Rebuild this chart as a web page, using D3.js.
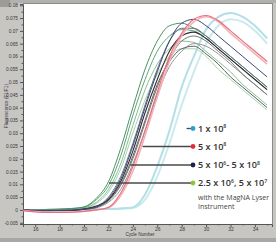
<!DOCTYPE html>
<html>
<head>
<meta charset="utf-8">
<script src="https://cdnjs.cloudflare.com/ajax/libs/d3/7.8.5/d3.min.js"></script>
<style>
  html, body { margin: 0; padding: 0; background: #c8c6c3; }
  svg { display: block; }
</style>
</head>
<body>
<script>
// cycle numbers for all curves
var cycles = d3.range(15, 36);

// fluorescence readings per run (cycle 15 .. 35)
var green1 = [0, 0, 0.0002, 0.0003, 0.0005, 0.001, 0.004, 0.0095, 0.021, 0.037, 0.051, 0.062, 0.068, 0.0705, 0.07, 0.067, 0.063, 0.059, 0.055, 0.051, 0.047];
var green2 = [0, 0, 0.0001, 0.0002, 0.0004, 0.0008, 0.003, 0.008, 0.018, 0.033, 0.047, 0.057, 0.063, 0.066, 0.0655, 0.062, 0.058, 0.054, 0.049, 0.045, 0.041];
var green3 = [0, 0, 0.0002, 0.0003, 0.0006, 0.0012, 0.0045, 0.011, 0.024, 0.040, 0.055, 0.066, 0.072, 0.073, 0.071, 0.068, 0.064, 0.060, 0.056, 0.052, 0.048];
var green4 = [0, 0, 0.0001, 0.0002, 0.0003, 0.0006, 0.0025, 0.007, 0.016, 0.030, 0.043, 0.053, 0.060, 0.063, 0.063, 0.060, 0.055, 0.051, 0.047, 0.043, 0.039];

var dark1 = [0, -0.0003, -0.0004, -0.0003, -0.0002, 0.0003, 0.0015, 0.004, 0.011, 0.023, 0.038, 0.051, 0.062, 0.068, 0.0695, 0.067, 0.063, 0.059, 0.055, 0.051, 0.047];
var dark2 = [0, -0.0002, -0.0003, -0.0002, -0.0001, 0.0002, 0.001, 0.0035, 0.0095, 0.020, 0.034, 0.048, 0.059, 0.066, 0.068, 0.066, 0.062, 0.058, 0.053, 0.049, 0.045];
var navy1 = [0, -0.0003, -0.0003, -0.0002, -0.0001, 0.0003, 0.0012, 0.0045, 0.012, 0.025, 0.040, 0.054, 0.066, 0.073, 0.0745, 0.072, 0.068, 0.064, 0.060, 0.056, 0.052];
var dark3 = [0, -0.0002, -0.0003, -0.0003, -0.0002, 0.0002, 0.001, 0.0038, 0.010, 0.021, 0.035, 0.049, 0.058, 0.063, 0.064, 0.061, 0.057, 0.052, 0.048, 0.044, 0.040];
var slate1 = [0, -0.0002, -0.0002, -0.0001, 0, 0.0004, 0.0013, 0.005, 0.013, 0.026, 0.041, 0.055, 0.066, 0.071, 0.071, 0.068, 0.064, 0.060, 0.056, 0.052, 0.048];
var grey1 = [0, -0.0001, -0.0002, -0.0002, -0.0001, 0.0002, 0.0008, 0.003, 0.008, 0.018, 0.031, 0.045, 0.056, 0.062, 0.065, 0.064, 0.061, 0.057, 0.053, 0.049, 0.045];

var red1 = [-0.0003, -0.0008, -0.001, -0.001, -0.0009, -0.0006, 0, 0.001, 0.0065, 0.017, 0.031, 0.046, 0.060, 0.069, 0.0745, 0.076, 0.074, 0.070, 0.066, 0.062, 0.058];
var red2 = [-0.0002, -0.0006, -0.0008, -0.0008, -0.0007, -0.0005, 0, 0.0008, 0.0055, 0.015, 0.029, 0.044, 0.058, 0.068, 0.0735, 0.0755, 0.0735, 0.069, 0.065, 0.061, 0.057];

var cyan1 = [0, 0, 0, 0, 0.0001, 0.0002, 0.0003, 0.0004, 0.0006, 0.001, 0.006, 0.017, 0.031, 0.048, 0.060, 0.0705, 0.0755, 0.077, 0.0755, 0.072, 0.067];
var cyan2 = [0, 0, 0, 0, 0.0001, 0.0002, 0.0003, 0.0004, 0.0005, 0.0008, 0.004, 0.013, 0.026, 0.041, 0.054, 0.065, 0.072, 0.0745, 0.0735, 0.070, 0.065];

// draw order and colours
var runs = [
  { v: cyan2, c: "#cbeaee", w: 2 },
  { v: cyan1, c: "#b3e0e5", w: 2 },
  { v: green4, c: "#a6d4ae", w: 1 },
  { v: green2, c: "#86bf94", w: 1 },
  { v: green1, c: "#5fa575", w: 1 },
  { v: green3, c: "#4a9065", w: 1 },
  { v: grey1, c: "#959595", w: 1 },
  { v: dark3, c: "#606060", w: 1 },
  { v: dark2, c: "#777777", w: 1 },
  { v: slate1, c: "#67708a", w: 1 },
  { v: dark1, c: "#2e2e2e", w: 1.1 },
  { v: navy1, c: "#3c4878", w: 1 },
  { v: red2, c: "#f3b0b8", w: 1.5 },
  { v: red1, c: "#e6727f", w: 1.2 }
];

// legend
var legendLabels = [
  ["1 x 10", "8", "", ""],
  ["5 x 10", "8", "", ""],
  ["5 x 10", "6", "- 5 x 10", "8"],
  ["2.5 x 10", "6", ", 5 x 10", "7"]
];
var legendColors = ["#2b9fd6", "#e0303e", "#1c2150", "#8cc63e"];
var legendFromCycle = [28.4, 24.8, 23.8, 22.05];
var noteLines = ["with the MagNA Lyser", "Instrument"];

var yTicks = d3.range(-1, 17).map(function(i){ return i * 0.005; });
var xTicks = d3.range(16, 35, 2);

var W = 276, H = 242;
var svg = d3.select("body").append("svg")
    .attr("width", W)
    .attr("height", H);

var x = d3.scaleLinear().domain([15, 35.4]).range([23, 272]);
var y = d3.scaleLinear().domain([-0.0055, 0.0805]).range([224, 4]);

// window frame
svg.append("rect").attr("x", 0).attr("y", 0).attr("width", W).attr("height", H).attr("fill", "#c8c6c3");
svg.append("rect").attr("x", 0).attr("y", 0).attr("width", W).attr("height", 3).attr("fill", "#b3b1ae");
svg.append("rect").attr("x", 0).attr("y", 238).attr("width", W).attr("height", 4).attr("fill", "#a9a7a4");
svg.append("rect").attr("x", 0).attr("y", 0).attr("width", 10).attr("height", 7).attr("fill", "#9e9c99");

svg.append("rect")
    .attr("x", 23).attr("y", 3)
    .attr("width", 249).attr("height", 221)
    .attr("fill", "#ffffff");
svg.append("line").attr("x1", 23).attr("x2", 272).attr("y1", 3.5).attr("y2", 3.5).attr("stroke", "#8d8b88");
svg.append("line").attr("x1", 272.5).attr("x2", 272.5).attr("y1", 3).attr("y2", 224).attr("stroke", "#8d8b88");

svg.append("clipPath").attr("id", "plot")
  .append("rect").attr("x", 23).attr("y", 4).attr("width", 249).attr("height", 220);

// axes
var yAxis = d3.axisLeft(y)
    .tickValues(yTicks)
    .tickSize(3)
    .tickFormat(function(d){ return String(+d.toFixed(3)); });
var gy = svg.append("g").attr("transform", "translate(23,0)").call(yAxis);
gy.select(".domain").attr("stroke", "#555");
gy.selectAll(".tick line").attr("stroke", "#555");
gy.selectAll("text").attr("font-family", "Liberation Sans, sans-serif").attr("font-size", 4.8).attr("fill", "#3a3a3a").attr("dx", 1);

var gym = svg.append("g").attr("transform", "translate(23,0)")
    .call(d3.axisLeft(y).tickValues(yTicks.map(function(d){ return d + 0.0025; }).filter(function(d){ return d < 0.08; })).tickSize(1.5).tickFormat(""));
gym.select(".domain").remove();
gym.selectAll(".tick line").attr("stroke", "#555");

var xAxis = d3.axisBottom(x).tickValues(xTicks).tickSize(3).tickFormat(d3.format("d"));
var gx = svg.append("g").attr("transform", "translate(0,224)").call(xAxis);
gx.select(".domain").attr("stroke", "#555");
gx.selectAll(".tick line").attr("stroke", "#555");
gx.selectAll("text").attr("font-family", "Liberation Sans, sans-serif").attr("font-size", 5).attr("fill", "#3a3a3a").attr("dy", "0.2em");

var gxm = svg.append("g").attr("transform", "translate(0,224)")
    .call(d3.axisBottom(x).tickValues(d3.range(15, 36, 2)).tickSize(1.5).tickFormat(""));
gxm.select(".domain").remove();
gxm.selectAll(".tick line").attr("stroke", "#555");

svg.append("text")
    .attr("x", 140).attr("y", 236)
    .attr("text-anchor", "middle")
    .attr("font-family", "Liberation Sans, sans-serif")
    .attr("font-size", 4.6)
    .attr("fill", "#333")
    .text("Cycle Number");

svg.append("text")
    .attr("transform", "translate(8,106) rotate(-90)")
    .attr("text-anchor", "middle")
    .attr("font-family", "Liberation Sans, sans-serif")
    .attr("font-size", 4.6)
    .attr("fill", "#333")
    .text("Fluorescence (F1/F1)");

// amplification curves
var line = d3.line()
    .x(function(d, i){ return x(cycles[i]); })
    .y(function(d){ return y(d); })
    .curve(d3.curveMonotoneX);

svg.append("g").attr("clip-path", "url(#plot)")
  .selectAll("path")
  .data(runs)
  .join("path")
    .attr("d", function(r){ return line(r.v); })
    .attr("fill", "none")
    .attr("stroke", function(r){ return r.c; })
    .attr("stroke-width", function(r){ return r.w; })
    .attr("stroke-linejoin", "round");

// legend
var rowY = [128.5, 146.5, 165, 183];
var lg = svg.append("g");
legendLabels.forEach(function(lab, i){
  lg.append("line")
    .attr("x1", x(legendFromCycle[i])).attr("x2", 193)
    .attr("y1", rowY[i]).attr("y2", rowY[i])
    .attr("stroke", "#4a4a4a").attr("stroke-width", 1.3);
  lg.append("circle")
    .attr("cx", 193).attr("cy", rowY[i]).attr("r", 2.4)
    .attr("fill", legendColors[i]);
  var t = lg.append("text")
    .attr("x", 198).attr("y", rowY[i] + 3.3)
    .attr("font-family", "Open Sans, sans-serif")
    .attr("font-weight", 600)
    .attr("font-size", 9.1)
    .attr("fill", "#333");
  t.append("tspan").text(lab[0]);
  t.append("tspan").attr("font-size", 5.2).attr("dy", -3.6).text(lab[1]);
  if (lab[2]) {
    t.append("tspan").attr("dy", 3.6).text(lab[2]);
    t.append("tspan").attr("font-size", 5.2).attr("dy", -3.6).text(lab[3]);
  }
});
noteLines.forEach(function(s, i){
  lg.append("text")
    .attr("x", 198).attr("y", 199.5 + i * 9)
    .attr("font-family", "Open Sans, sans-serif")
    .attr("font-size", 7)
    .attr("fill", "#444")
    .text(s);
});
</script>
</body>
</html>
